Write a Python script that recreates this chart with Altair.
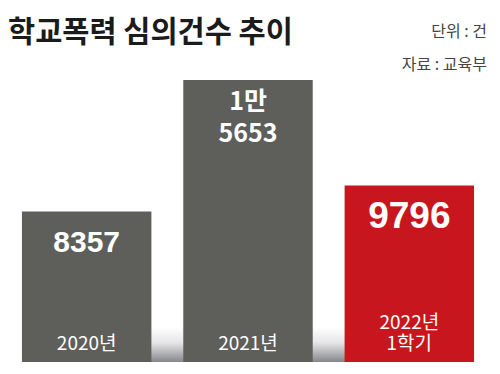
import altair as alt
import pandas as pd

categories = ["2020년", "2021년", "2022년\n1학기"]
values = [8357, 15653, 9796]

title_text = "학교폭력 심의건수 추이"
unit_text = "단위 : 건"
source_text = "자료 : 교육부"

GRAY = "#5e5f5a"
RED = "#c8161e"


def fmt(v):
    if v >= 10000:
        return f"{v // 10000}만\n{v % 10000}"
    return str(v)


df = pd.DataFrame({
    "cat": categories,
    "value": values,
    "label": [fmt(v) for v in values],
    "lines": [c.count("\n") + 1 for c in categories],
})

xscale = alt.Scale(domain=categories, paddingInner=0.1975, paddingOuter=0.136)
yscale = alt.Scale(zero=True, nice=False)

base = alt.Chart(df).encode(
    x=alt.X("cat:N", sort=None, axis=None, scale=xscale),
)

shadow = alt.Chart(pd.DataFrame({"a": [0]})).mark_rect(
    color=alt.Gradient(
        gradient="linear",
        stops=[alt.GradientStop(color="#ffffff", offset=0),
               alt.GradientStop(color="#e6e6e8", offset=0.45),
               alt.GradientStop(color="#86878b", offset=1)],
        x1=0, x2=0, y1=0, y2=1,
    )
).encode(
    x=alt.value(150),
    x2=alt.value(346),
    y=alt.value(247),
    y2=alt.value(282),
)

bars = base.mark_bar().encode(
    y=alt.Y("value:Q", axis=None, scale=yscale),
    color=alt.Color("cat:N", scale=alt.Scale(domain=categories, range=[GRAY, GRAY, RED]), legend=None),
)

NUMFONT = "Liberation Sans, Arial, sans-serif"

lab2020 = base.mark_text(
    font=NUMFONT, fontWeight="bold", fontSize=30, color="white",
    baseline="alphabetic", dy=41,
).encode(y=alt.Y("value:Q", scale=yscale), text="label:N").transform_filter(
    alt.datum.cat == categories[0])

lab2021 = base.mark_text(
    font="Noto Sans CJK KR", fontWeight="bold", fontSize=25, color="white",
    baseline="alphabetic", dy=30, lineBreak="\n", lineHeight=32,
).encode(y=alt.Y("value:Q", scale=yscale), text="label:N").transform_filter(
    alt.datum.cat == categories[1])

lab2022 = base.mark_text(
    font=NUMFONT, fontWeight="bold", fontSize=37, color="white",
    baseline="alphabetic", dy=42,
).encode(y=alt.Y("value:Q", scale=yscale), text="label:N").transform_filter(
    alt.datum.cat == categories[2])

cat1 = base.mark_text(
    font="Noto Sans CJK KR", fontSize=19, color="white",
    baseline="alphabetic", dy=-12,
).encode(y=alt.value(282), text="cat:N").transform_filter(alt.datum.lines == 1)

cat2 = base.mark_text(
    font="Noto Sans CJK KR", fontSize=19, color="white",
    baseline="alphabetic", dy=-33, lineBreak="\n", lineHeight=21,
).encode(y=alt.value(282), text="cat:N").transform_filter(alt.datum.lines == 2)

title = alt.Chart(pd.DataFrame({"t": [title_text]})).mark_text(
    font="Noto Sans CJK KR", fontWeight="bold", fontSize=29.5, color="#1b1b1b",
    align="left", baseline="alphabetic",
).encode(x=alt.value(8), y=alt.value(-38), text="t:N")

unit = alt.Chart(pd.DataFrame({"t": [unit_text]})).mark_text(
    font="Noto Sans CJK KR", fontSize=16, color="#444444",
    align="right", baseline="alphabetic",
).encode(x=alt.value(487), y=alt.value(-43), text="t:N")

source = alt.Chart(pd.DataFrame({"t": [source_text]})).mark_text(
    font="Noto Sans CJK KR", fontSize=16, color="#444444",
    align="right", baseline="alphabetic",
).encode(x=alt.value(487), y=alt.value(-10), text="t:N")

chart = alt.layer(shadow, bars, lab2020, lab2021, lab2022, cat1, cat2, title, unit, source).properties(
    width=496, height=282,
    background="white",
    autosize=alt.AutoSizeParams(type="none"),
    padding={"left": 0, "top": 80, "right": 4, "bottom": 12},
).configure_view(stroke=None)

chart.save("out.html", embed_options={"renderer": "svg", "actions": False})
